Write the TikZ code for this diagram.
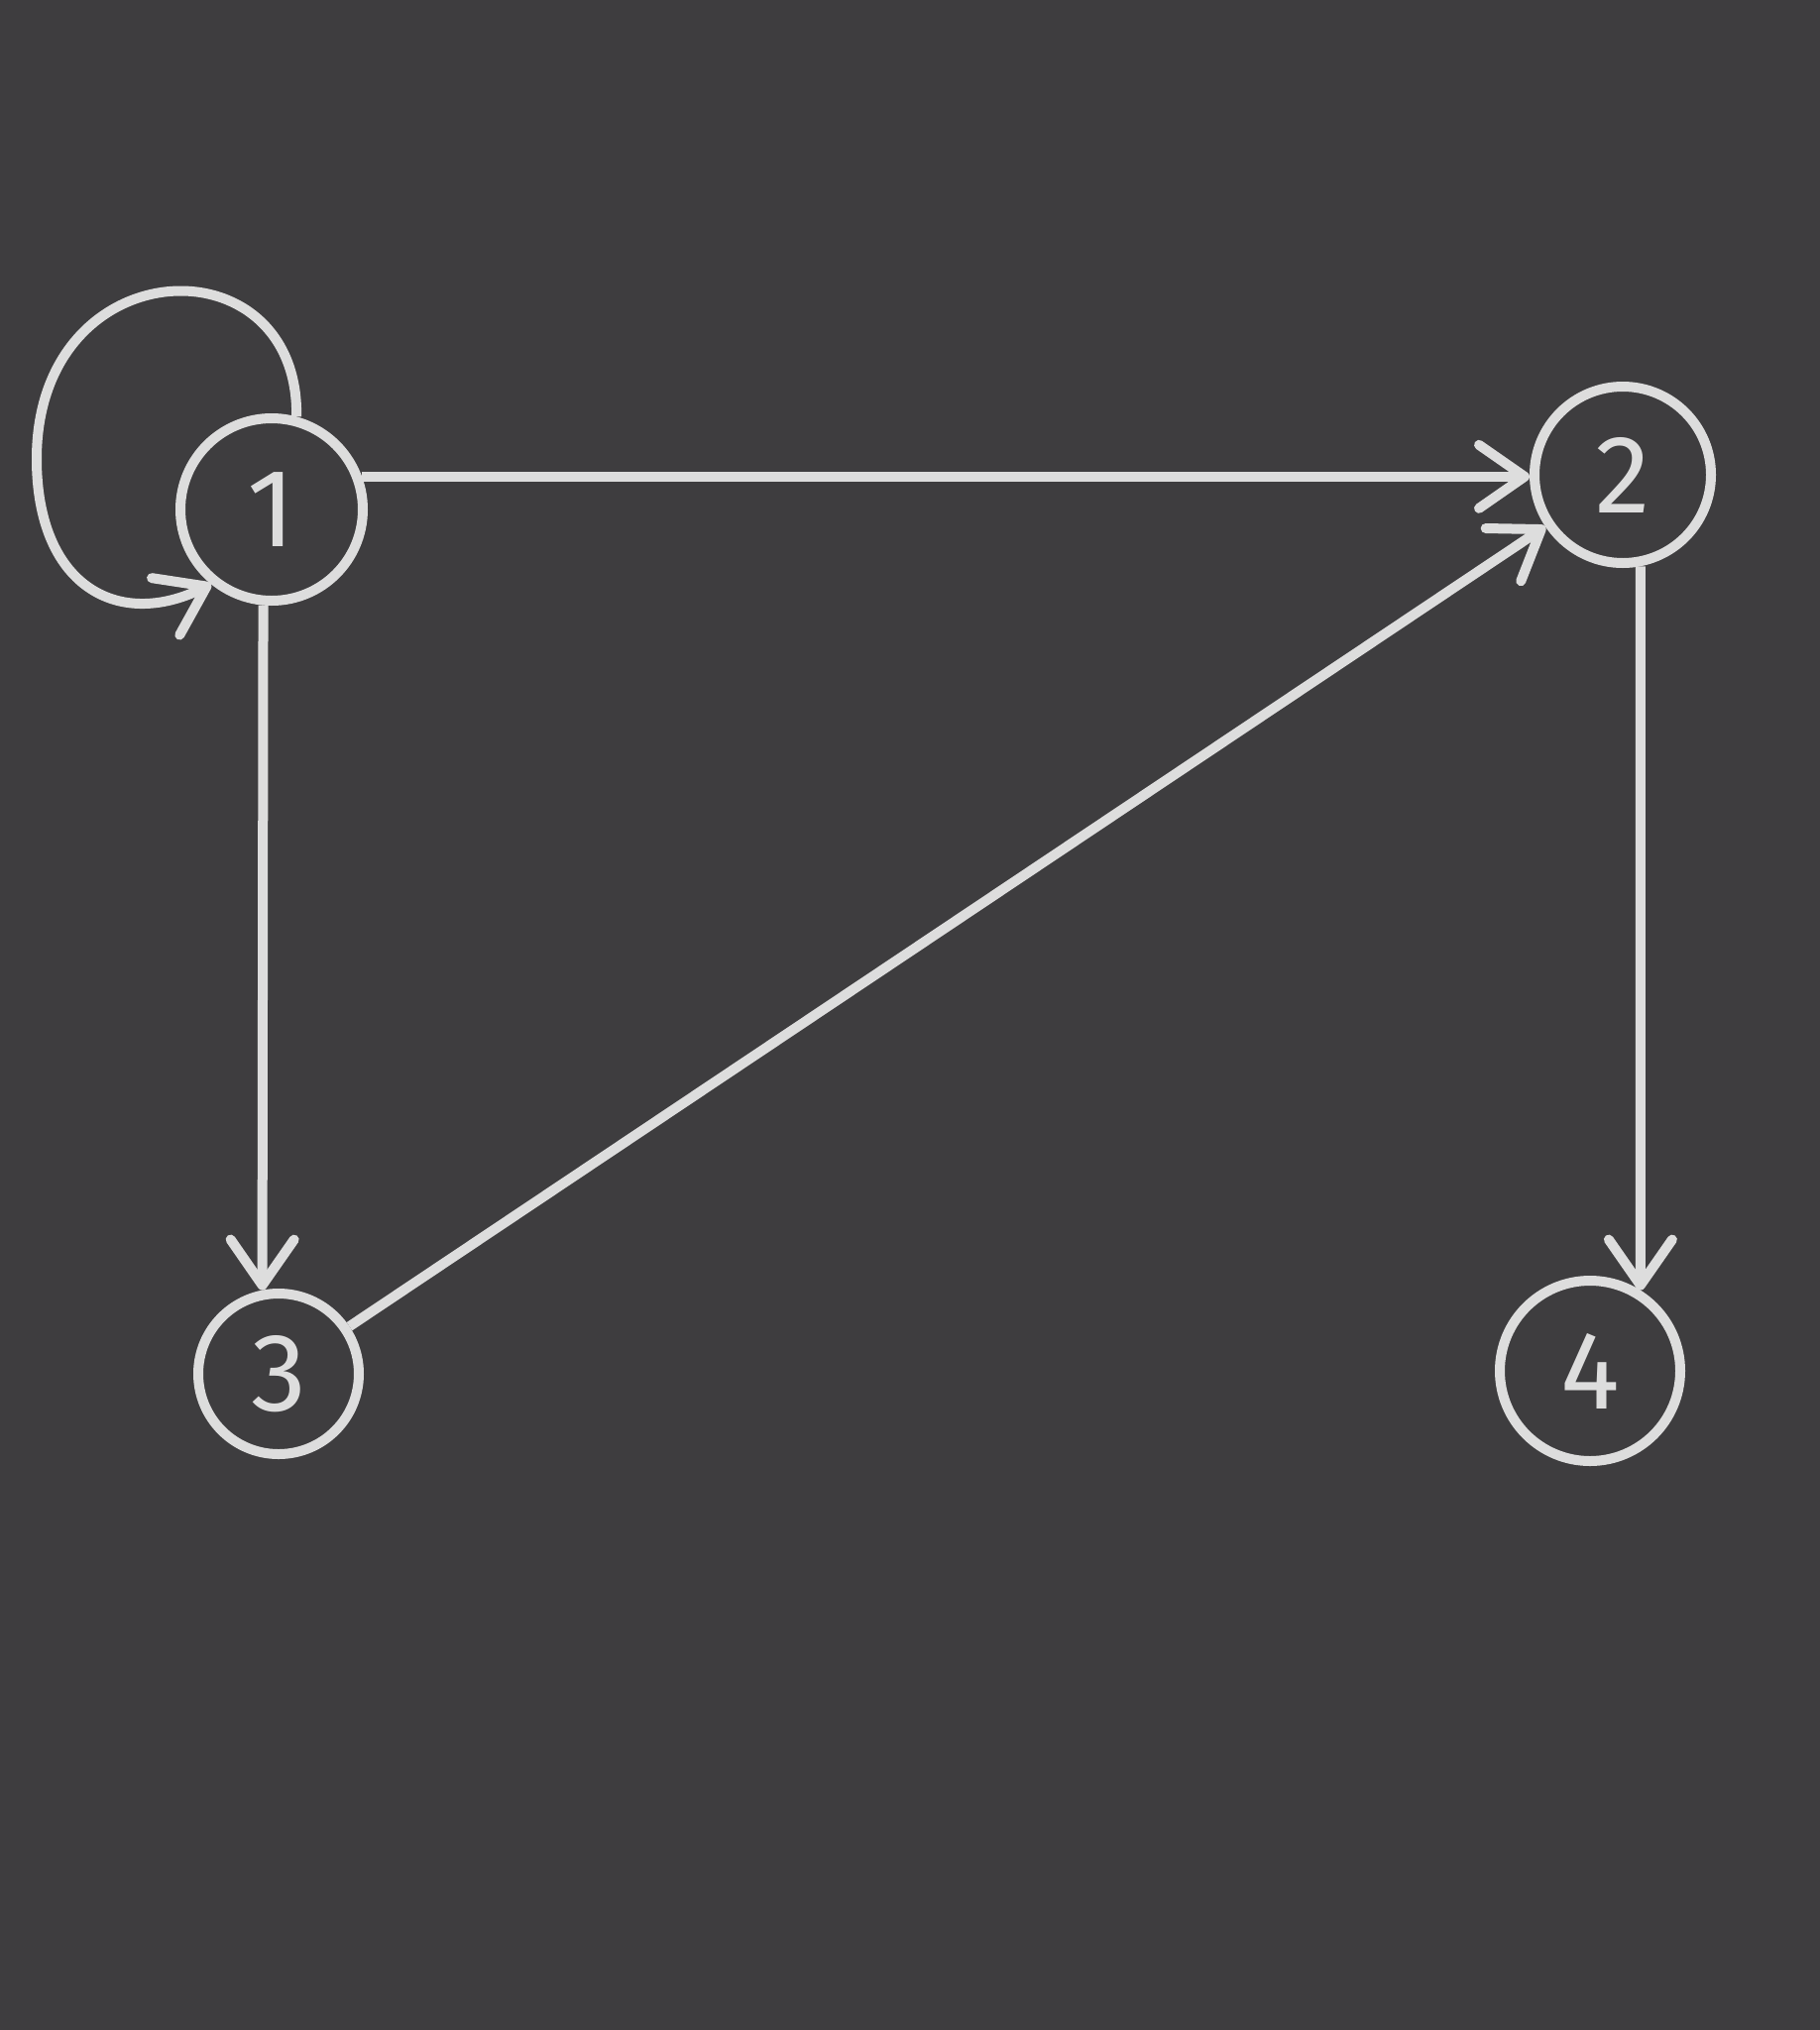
\documentclass[tikz,border=0pt]{standalone}
\usepackage{fontspec}
\setmainfont{Fira Sans}
\usetikzlibrary{arrows.meta}
\definecolor{bg}{RGB}{62,61,63}
\definecolor{ink}{RGB}{221,221,221}
\begin{document}
\begin{tikzpicture}[x=1pt,y=-1pt,
  vertex/.style={circle,draw=ink,line width=10pt,inner sep=0pt,text=ink,
    font=\fontsize{112}{112}\selectfont},
  edge/.style={draw=ink,line width=10pt,
    -{Straight Barb[length=46pt,width=64pt,round]}}]
\fill[bg] (0,0) rectangle (1836,2048);
\useasboundingbox (0,0) rectangle (1836,2048);
\node[vertex,minimum size=184pt] (n1) at (274,514) {1};
\node[vertex,minimum size=178pt] (n2) at (1637,479) {2};
\node[vertex,minimum size=162pt] (n3) at (281,1386) {3};
\node[vertex,minimum size=182pt] (n4) at (1604,1383) {4};
\draw[edge] (n1.20) -- (n1.20 -| n2.west);
\draw[edge] (n1.265) -- (n3.101);
\draw[edge] (n3) -- (n2);
\draw[edge] (n2.281) -- (n4.58);
\draw[edge] (n1.75) .. controls (302,240) and (37,250) .. (37,463)
  .. controls (37,590) and (118,636) .. (n1.231);
\end{tikzpicture}
\end{document}
